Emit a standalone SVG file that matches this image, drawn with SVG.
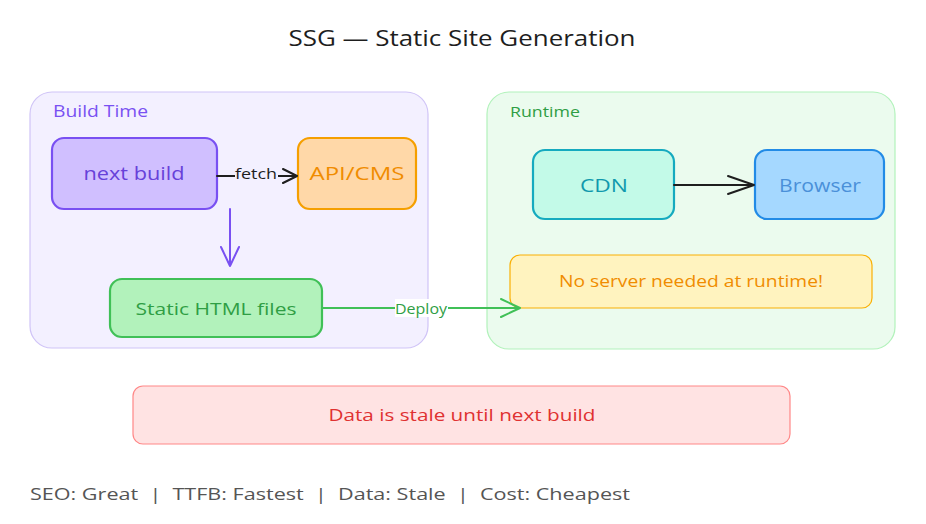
<svg xmlns="http://www.w3.org/2000/svg" width="926" height="524" viewBox="0 0 926 524">
<defs>
<style>
text{font-family:"Open Sans","Liberation Sans",sans-serif;white-space:pre;}
.c{text-anchor:middle;dominant-baseline:central;}
.n{stroke-width:2.2;}
.g{stroke-width:1.2;}
.e{fill:none;stroke-width:2;stroke-linecap:round;stroke-linejoin:round;}
</style>
</defs>
<rect width="926" height="524" fill="#ffffff"/>
<text class="c" x="462" y="38" font-size="21" fill="#1e1e1e" textLength="347" lengthAdjust="spacingAndGlyphs">SSG — Static Site Generation</text>

<g id="build-time">
<rect class="g" x="30" y="92" width="398" height="256" rx="22" fill="#f3f0ff" stroke="#d0c4f7"/>
<text x="53" y="117" font-size="17" fill="#7950f2" textLength="95" lengthAdjust="spacingAndGlyphs">Build Time</text>
</g>
<g id="runtime">
<rect class="g" x="487" y="92" width="408" height="257" rx="22" fill="#ebfbee" stroke="#b2f2bb"/>
<text x="510" y="117" font-size="15" fill="#2f9e44" textLength="70" lengthAdjust="spacingAndGlyphs">Runtime</text>
</g>

<g id="next-build">
<rect class="n" x="52" y="138" width="165" height="71" rx="12" fill="#d0bfff" stroke="#7950f2"/>
<text class="c" x="134" y="173" font-size="18" fill="#6741d9" textLength="101" lengthAdjust="spacingAndGlyphs">next build</text>
</g>
<g id="api-cms">
<rect class="n" x="298" y="138" width="118" height="71" rx="12" fill="#ffd8a8" stroke="#f59f00"/>
<text class="c" x="357" y="173" font-size="18" fill="#f08c00" textLength="95" lengthAdjust="spacingAndGlyphs">API/CMS</text>
</g>
<g id="static-html">
<rect class="n" x="110" y="279" width="212" height="58" rx="12" fill="#b2f2bb" stroke="#40c057"/>
<text class="c" x="216" y="308" font-size="17" fill="#2f9e44" textLength="161" lengthAdjust="spacingAndGlyphs">Static HTML files</text>
</g>
<g id="cdn">
<rect class="n" x="533" y="150" width="141" height="69" rx="12" fill="#c3fae8" stroke="#15aabf"/>
<text class="c" x="604" y="185" font-size="19" fill="#1098ad" textLength="48" lengthAdjust="spacingAndGlyphs">CDN</text>
</g>
<g id="browser">
<rect class="n" x="755" y="150" width="129" height="69" rx="12" fill="#a5d8ff" stroke="#228be6"/>
<text class="c" x="820" y="185" font-size="19" fill="#4a90d9" textLength="82" lengthAdjust="spacingAndGlyphs">Browser</text>
</g>
<g id="no-server">
<rect class="g" x="510" y="255" width="362" height="53" rx="10" fill="#fff3bf" stroke="#fab005"/>
<text class="c" x="691" y="281" font-size="16" fill="#f08c00" textLength="264" lengthAdjust="spacingAndGlyphs">No server needed at runtime!</text>
</g>
<g id="stale">
<rect class="g" x="133" y="386" width="657" height="58" rx="10" fill="#ffe3e3" stroke="#ff8787"/>
<text class="c" x="462" y="414" font-size="17" fill="#e03131" textLength="267" lengthAdjust="spacingAndGlyphs">Data is stale until next build</text>
</g>

<g id="connectors">
<path class="e" stroke="#1e1e1e" d="M217 176 H297 M283 169 L297 176 L283 183"/>
<rect x="235" y="165" width="43" height="18" fill="#f3f0ff"/>
<text class="c" x="256" y="173" font-size="15" fill="#1e1e1e" textLength="42" lengthAdjust="spacingAndGlyphs">fetch</text>
<path class="e" stroke="#7950f2" stroke-width="1.8" d="M230 209 V266 M221 247 L230 266 L239 247"/>
<path class="e" stroke="#40c057" d="M322 308 H520 M501 299 L520 308 L501 317"/>
<rect x="395" y="299" width="53" height="18" fill="#ffffff"/>
<text class="c" x="421" y="308" font-size="15" fill="#2f9e44" textLength="52" lengthAdjust="spacingAndGlyphs">Deploy</text>
<path class="e" stroke="#1e1e1e" stroke-width="2.4" d="M674 185 H754 M728 176 L754 185 L728 194"/>
</g>

<text x="30" y="500" font-size="17" fill="#555555" textLength="600" lengthAdjust="spacingAndGlyphs">SEO: Great  |  TTFB: Fastest  |  Data: Stale  |  Cost: Cheapest</text>
</svg>
